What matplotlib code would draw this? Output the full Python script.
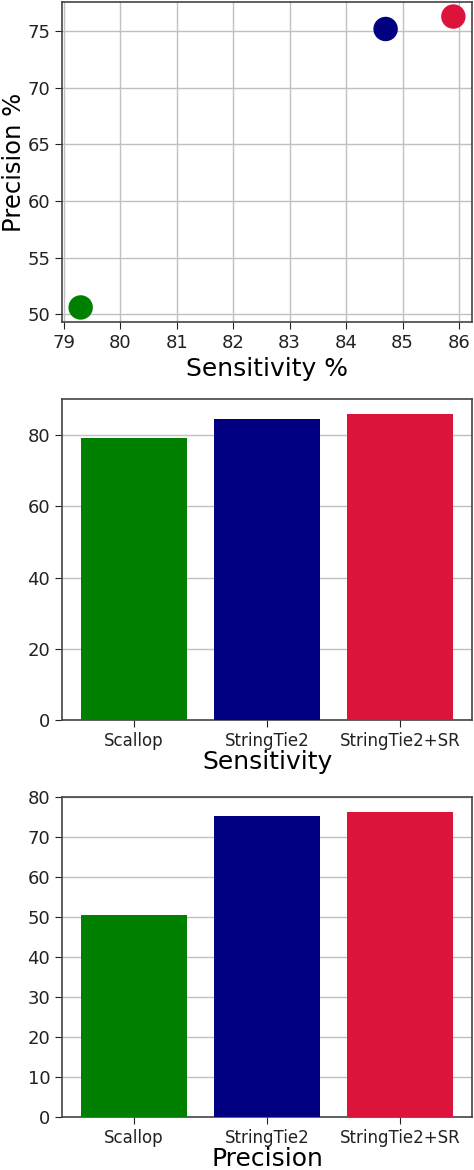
import matplotlib.pyplot as plt
from matplotlib.ticker import MultipleLocator

tools = ["Scallop", "StringTie2", "StringTie2+SR"]
colors = ["green", "navy", "crimson"]
sensitivity = [79.3, 84.7, 85.9]
precision = [50.6, 75.2, 76.3]

W, H = 474, 1170
fig = plt.figure(figsize=(W / 100, H / 100), dpi=100)


def box(left, top, right, bottom):
    return [left / W, 1 - bottom / H, (right - left) / W, (bottom - top) / H]


def style(ax):
    for s in ax.spines.values():
        s.set_color("#444444")
        s.set_linewidth(1.2)
    ax.tick_params(colors="#222222", labelsize=13, length=5)


# scatter: sensitivity vs precision
ax1 = fig.add_axes(box(62, 2, 472, 322))
ax1.scatter(sensitivity, precision, c=colors, s=275, zorder=3)
ax1.xaxis.set_major_locator(MultipleLocator(1))
ax1.yaxis.set_major_locator(MultipleLocator(5))
ax1.grid(True, color="#c0c0c0", linewidth=1)
ax1.set_axisbelow(True)
ax1.set_xlabel("Sensitivity %", fontsize=18)
ax1.set_ylabel("Precision %", fontsize=17.5, labelpad=1)
style(ax1)

# sensitivity bars
ax2 = fig.add_axes(box(62, 399, 472, 720))
ax2.bar(tools, sensitivity, color=colors, zorder=3)
ax2.grid(True, axis="y", color="#c0c0c0", linewidth=1)
ax2.set_axisbelow(True)
ax2.set_xlabel("Sensitivity", fontsize=18, labelpad=0)
style(ax2)
ax2.tick_params(axis="x", labelsize=12)

# precision bars
ax3 = fig.add_axes(box(62, 797, 472, 1117))
ax3.bar(tools, precision, color=colors, zorder=3)
ax3.grid(True, axis="y", color="#c0c0c0", linewidth=1)
ax3.set_axisbelow(True)
ax3.set_ylim(0, 80)
ax3.set_xlabel("Precision", fontsize=18, labelpad=0)
style(ax3)
ax3.tick_params(axis="x", labelsize=12)

fig.savefig("out.png", dpi=100)
